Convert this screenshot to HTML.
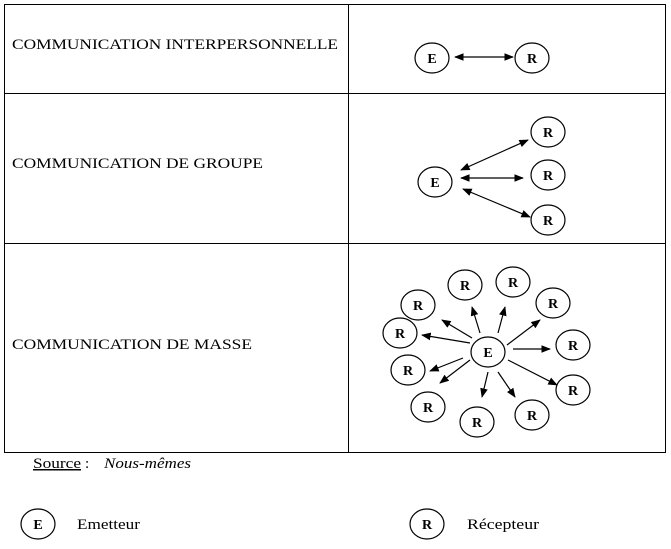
<!DOCTYPE html><html><head><style>body{margin:0;background:#fff}svg{display:block}text{font-family:"Liberation Serif",serif;fill:#000}</style></head><body>
<svg width="671" height="549" viewBox="0 0 671 549">
<defs><marker id="a" viewBox="0 0 10 10" refX="9" refY="5" markerWidth="8" markerHeight="8" orient="auto-start-reverse"><path d="M0,1 L10,5 L0,9z" fill="#000"/></marker></defs>
<g stroke="#000" stroke-width="1" fill="none">
<rect x="4.5" y="4.5" width="661" height="448"/>
<line x1="348.5" y1="4" x2="348.5" y2="452"/>
<line x1="4" y1="93.5" x2="666" y2="93.5"/>
<line x1="4" y1="243.5" x2="666" y2="243.5"/>
</g>
<g font-size="15">
<text x="12" y="49" textLength="326" lengthAdjust="spacingAndGlyphs">COMMUNICATION INTERPERSONNELLE</text>
<text x="12" y="168" textLength="251" lengthAdjust="spacingAndGlyphs">COMMUNICATION DE GROUPE</text>
<text x="12" y="349" textLength="240" lengthAdjust="spacingAndGlyphs">COMMUNICATION DE MASSE</text>
</g>
<g stroke="#000" stroke-width="1.2" fill="#fff">
<ellipse cx="432" cy="58" rx="17" ry="15"/><ellipse cx="532" cy="58" rx="17" ry="15"/>
<ellipse cx="435" cy="182" rx="17" ry="15"/><ellipse cx="548" cy="132" rx="17" ry="15"/><ellipse cx="548" cy="175" rx="17" ry="15"/><ellipse cx="548" cy="220" rx="17" ry="15"/>
<ellipse cx="488" cy="352" rx="17" ry="15"/>
<ellipse cx="465" cy="285" rx="17" ry="15"/><ellipse cx="513" cy="282" rx="17" ry="15"/><ellipse cx="553" cy="303" rx="17" ry="15"/><ellipse cx="418" cy="305" rx="17" ry="15"/><ellipse cx="400" cy="333" rx="17" ry="15"/><ellipse cx="573" cy="345" rx="17" ry="15"/><ellipse cx="408" cy="370" rx="17" ry="15"/><ellipse cx="573" cy="390" rx="17" ry="15"/><ellipse cx="428" cy="407" rx="17" ry="15"/><ellipse cx="532" cy="415" rx="17" ry="15"/><ellipse cx="477" cy="422" rx="17" ry="15"/>
<ellipse cx="38" cy="524" rx="17" ry="15"/><ellipse cx="427" cy="524" rx="17" ry="15"/>
</g>
<g stroke="#000" stroke-width="1.2" marker-end="url(#a)">
<line x1="455" y1="57" x2="513" y2="57" marker-start="url(#a)"/>
<line x1="461" y1="170" x2="528" y2="140" marker-start="url(#a)"/>
<line x1="461" y1="178" x2="523" y2="178" marker-start="url(#a)"/>
<line x1="463" y1="189" x2="530" y2="217" marker-start="url(#a)"/>
<line x1="480" y1="333" x2="472" y2="307"/>
<line x1="498" y1="333" x2="505" y2="307"/>
<line x1="507" y1="345" x2="540" y2="320"/>
<line x1="472" y1="338" x2="442" y2="320"/>
<line x1="470" y1="343" x2="422" y2="335"/>
<line x1="513" y1="349" x2="550" y2="349"/>
<line x1="463" y1="358" x2="430" y2="371"/>
<line x1="508" y1="360" x2="557" y2="385"/>
<line x1="470" y1="360" x2="440" y2="383"/>
<line x1="488" y1="372" x2="482" y2="397"/>
<line x1="498" y1="372" x2="515" y2="397"/>
</g>
<g font-size="14" font-weight="bold" text-anchor="middle">
<text x="432" y="63">E</text><text x="532" y="63">R</text>
<text x="435" y="187">E</text><text x="548" y="137">R</text><text x="548" y="180">R</text><text x="548" y="225">R</text>
<text x="488" y="357">E</text>
<text x="465" y="290">R</text><text x="513" y="287">R</text><text x="553" y="308">R</text><text x="418" y="310">R</text><text x="400" y="338">R</text><text x="573" y="350">R</text><text x="408" y="375">R</text><text x="573" y="395">R</text><text x="428" y="412">R</text><text x="532" y="420">R</text><text x="477" y="427">R</text>
<text x="38" y="529">E</text><text x="427" y="529">R</text>
</g>
<g font-size="15">
<text x="33" y="468" text-decoration="underline" textLength="48" lengthAdjust="spacingAndGlyphs">Source</text><text x="85" y="468">:</text>
<text x="104" y="468" font-style="italic" textLength="87" lengthAdjust="spacingAndGlyphs">Nous-mêmes</text>
<text x="77" y="529" textLength="63" lengthAdjust="spacingAndGlyphs">Emetteur</text>
<text x="467" y="529" textLength="72" lengthAdjust="spacingAndGlyphs">Récepteur</text>
</g>
</svg>
</body></html>
